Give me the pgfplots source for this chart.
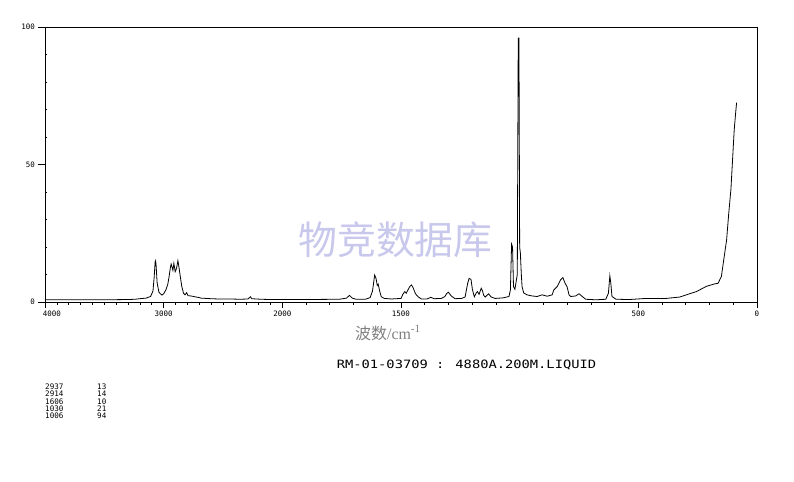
\documentclass[border=0pt]{standalone}
\usepackage{pgfplots}
\pgfplotsset{compat=1.18}
\usepackage{fontspec}
\usepackage{graphicx}
\setmainfont{DejaVu Sans}
\newfontfamily\pixmono{DejaVu Sans Mono}
\newfontfamily\cjk{Noto Sans CJK SC}
\newfontfamily\serifr{Liberation Serif}
\definecolor{wmark}{RGB}{200,200,236}
\definecolor{xlab}{RGB}{128,128,128}
\begin{document}
\begin{tikzpicture}
\path[use as bounding box] (-45bp,-180bp) rectangle (749bp,302bp);
% watermark behind the spectrum
\node[inner sep=0, text=wmark] at (350.5bp,62bp) {\cjk\fontsize{39}{39}\selectfont 物竞数据库};
\begin{axis}[
    at={(0,0)}, anchor=south west,
    scale only axis, width=712bp, height=275bp,
    x dir=reverse,
    % wavenumbers above 2000 are drawn at half scale
    x coord trafo/.code={\pgfmathparse{#1>2000 ? 2000+(#1-2000)/2 : #1}},
    xmin=0, xmax=4000, ymin=0, ymax=100,
    axis line style={black, line width=0.8bp},
    xtick pos=bottom, ytick pos=left,
    tick align=outside,
    major tick length=6.5bp, minor tick length=3bp,
    tick style={black, line width=0.7bp},
    xtick={0,500,1500,2000,3000,4000},
    xticklabels={0,500,1500,2000,3000,\hspace{14bp}4000},
    minor xtick={100,200,...,3900},
    ytick={0,50,100},
    yticklabels={0,50,100},
    extra y ticks={10,20,30,40,60,70,80,90},
    extra y tick labels={},
    extra y tick style={tick align=inside, major tick length=2bp},
    tick label style={font=\pixmono\fontsize{7.5}{8}\selectfont},
    xticklabel style={yshift=1.5bp},
    /pgf/number format/assume math mode=true,
]
\addplot[black, line width=0.8bp] table {
4000 0.8
3500 0.8
3300 0.9
3240 1.0
3200 1.2
3150 1.4
3110 2.0
3090 4.0
3080 9
3072 14.5
3068 15.0
3064 13.5
3055 7
3040 3.6
3028 3.0
3014 2.5
3000 3.0
2980 4.5
2965 6.5
2955 9
2944 12.3
2937 13.8
2928 12.5
2922 11.5
2914 14.0
2908 12.5
2903 11.0
2895 11.8
2889 12.8
2880 15.0
2874 13.5
2864 10.5
2847 5.6
2833 3.2
2820 2.6
2806 3.4
2795 2.3
2770 2.2
2736 1.9
2700 1.6
2683 1.4
2600 1.2
2542 1.1
2450 1.1
2350 1.0
2290 1.1
2268 1.9
2258 1.2
2183 1.0
2100 0.9
2000 0.9
1900 0.9
1760 1.0
1730 1.4
1717 2.4
1705 1.4
1690 1.0
1650 1.0
1630 1.6
1620 4.0
1611 9.8
1605 8.5
1600 6.0
1596 6.5
1590 4.0
1583 1.9
1570 1.3
1540 1.1
1500 1.3
1492 2.8
1484 3.8
1478 3.2
1470 4.5
1463 5.6
1456 6.2
1449 5.2
1439 3.0
1428 1.9
1414 1.1
1390 1.1
1375 1.7
1360 1.2
1330 1.3
1315 2.0
1308 3.0
1301 3.6
1287 2.1
1272 1.2
1245 1.3
1230 1.8
1219 6.8
1213 8.6
1205 8.2
1199 4.5
1191 1.9
1183 3.3
1178 3.8
1171 2.8
1162 5.0
1157 4.2
1152 2.5
1145 1.8
1131 3.0
1120 1.8
1103 1.3
1070 1.5
1045 2.0
1039 4.4
1034 21.0
1030 20.0
1026 5.6
1020 4.6
1010 10
1006 96.0
1003 96.0
1000 20
997 17.8
993 10
990 5.7
983 3.3
969 2.6
948 2.2
927 2.0
905 2.6
884 2.1
863 2.6
856 4.4
842 5.6
828 8.0
818 8.9
809 6.9
800 5.5
792 2.6
785 2.0
764 2.2
750 3.0
736 2.0
722 1.0
679 0.8
637 1.0
626 3.2
620 9.5
616 6.9
611 2.0
594 1.0
538 0.9
467 1.3
383 1.3
326 1.8
298 2.6
255 3.8
213 5.7
178 6.6
164 6.8
150 9.3
140 15.4
128 22.6
119 32.3
110 40.8
103 51.7
96 62.6
90 68.7
86 72.5
};
\end{axis}
% axis title under the ticks
\node[inner sep=0, text=xlab] at (343bp,-31bp)
  {{\cjk\fontsize{16}{16}\selectfont 波数}{\serifr\fontsize{16}{16}\selectfont /cm\textsuperscript{-1}}};
\node[inner sep=0] at (421.5bp,-63bp)
  {\scalebox{1.2}[1]{\pixmono\fontsize{11.5}{12}\selectfont RM-01-03709 : 4880A.200M.LIQUID}};
% peak list
\begin{scope}[every node/.style={inner sep=0, anchor=west, font=\pixmono\fontsize{7.6}{7.6}\selectfont}]
\node at (0bp,-85bp) {2937}; \node at (52bp,-85bp) {13};
\node at (0bp,-92.2bp) {2914}; \node at (52bp,-92.2bp) {14};
\node at (0bp,-99.4bp) {1606}; \node at (52bp,-99.4bp) {10};
\node at (0bp,-106.6bp) {1030}; \node at (52bp,-106.6bp) {21};
\node at (0bp,-113.8bp) {1006}; \node at (52bp,-113.8bp) {94};
\end{scope}
\end{tikzpicture}
\end{document}
